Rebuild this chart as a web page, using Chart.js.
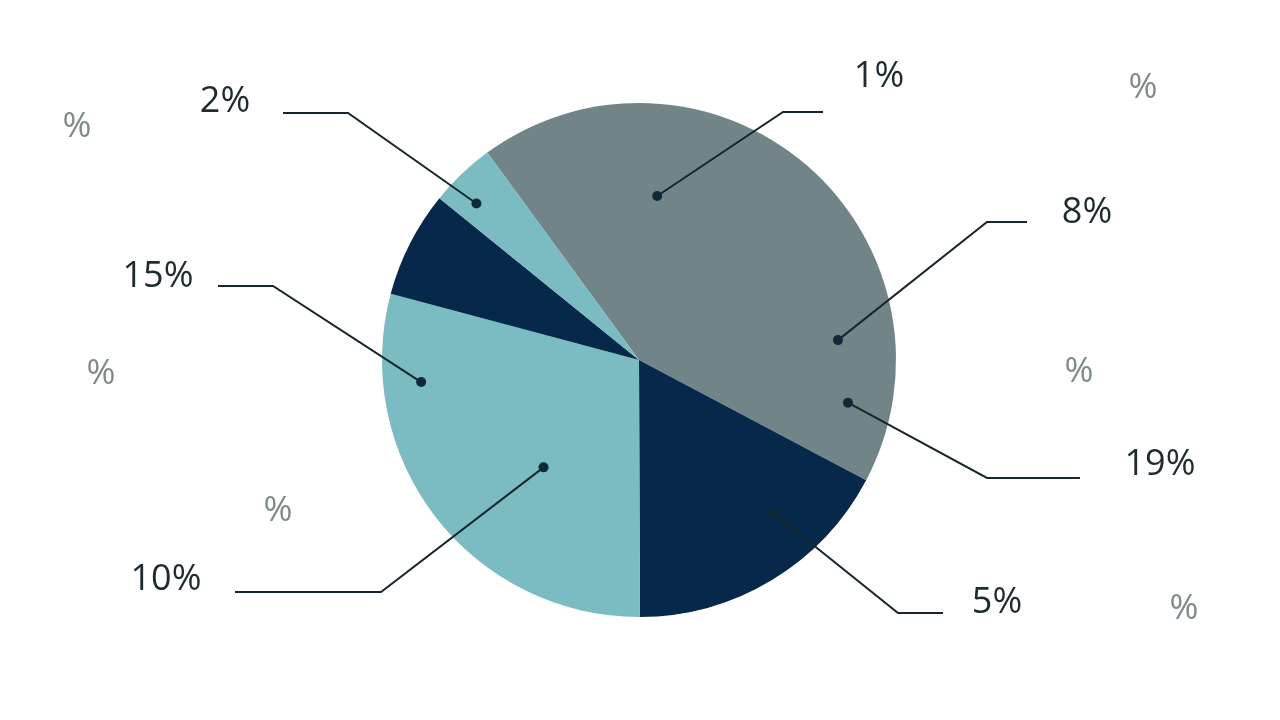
<!DOCTYPE html>
<html>
<head>
<meta charset="utf-8">
<script src="https://cdn.jsdelivr.net/npm/chart.js@4"></script>
<style>
    html, body { margin: 0; padding: 0; background: #fff; }
    #wrap { width: 1280px; height: 720px; }
</style>
</head>
<body>
<div id="wrap"><canvas id="pie"></canvas></div>
<script>
// slice shares (in %)
const slices = ['A', 'B', 'C', 'D', 'E'];
const shares = [42.8, 17.2, 29.2, 6.7, 4.1];
const colors = ['#718589', '#06284a', '#7bbcc2', '#06284a', '#7bbcc2'];

// callout labels, which slice they point into, where inside that slice
const calloutText  = ['1%', '8%', '19%', '5%', '10%', '15%', '2%'];
const calloutSlice = [0, 0, 0, 1, 2, 2, 4];
const calloutAngle = [0.276, 0.782, 0.894, 0.337, 0.398, 0.803, 0.33]; // fraction of the slice sweep
const calloutDepth = [0.642, 0.778, 0.830, 0.791, 0.559, 0.852, 0.878]; // fraction of radius

// leader layout, offsets from pie centre: elbow, line end, text centre
const calloutLayout = [
    { elbow: [144, -248], end: [184, -248], text: [240, -283] },
    { elbow: [348, -138], end: [388, -138], text: [448, -147] },
    { elbow: [348, 118],  end: [441, 118],  text: [521, 105] },
    { elbow: [259, 253],  end: [304, 253],  text: [358, 243] },
    { elbow: [-258, 232], end: [-404, 232], text: [-473, 220] },
    { elbow: [-366, -74], end: [-421, -74], text: [-481, -83] },
    { elbow: [-291, -247], end: [-356, -247], text: [-414, -258] }
];

// stray "%" marks with no number
const ghostMarks = [[-562, -233], [504, -272], [-538, 14], [440, 12], [-361, 151], [545, 249]];

const callouts = {
    id: 'callouts',
    afterDatasetsDraw(chart) {
        const ctx = chart.ctx;
        const arcs = chart.getDatasetMeta(0).data;
        const cx = arcs[0].x, cy = arcs[0].y;

        ctx.save();
        ctx.textAlign = 'center';
        ctx.textBaseline = 'middle';

        calloutText.forEach((txt, i) => {
            const arc = arcs[calloutSlice[i]];
            const a = arc.startAngle + (arc.endAngle - arc.startAngle) * calloutAngle[i];
            const r = arc.outerRadius * calloutDepth[i];
            const px = cx + Math.cos(a) * r;
            const py = cy + Math.sin(a) * r;
            const L = calloutLayout[i];

            ctx.strokeStyle = '#17262c';
            ctx.lineWidth = 2;
            ctx.beginPath();
            ctx.moveTo(px, py);
            ctx.lineTo(cx + L.elbow[0], cy + L.elbow[1]);
            ctx.lineTo(cx + L.end[0], cy + L.end[1]);
            ctx.stroke();

            ctx.fillStyle = '#0f2a36';
            ctx.beginPath();
            ctx.arc(px, py, 5, 0, Math.PI * 2);
            ctx.fill();

            ctx.fillStyle = '#1e2b2f';
            ctx.font = '500 36px "Open Sans", sans-serif';
            ctx.fillText(txt, cx + L.text[0], cy + L.text[1]);
        });

        ctx.fillStyle = '#7f8b8b';
        ctx.font = '500 35px "Open Sans", sans-serif';
        ghostMarks.forEach(g => ctx.fillText('%', cx + g[0], cy + g[1]));
        ctx.restore();
    }
};

new Chart(document.getElementById('pie'), {
    type: 'pie',
    data: {
        labels: slices,
        datasets: [{ data: shares, backgroundColor: colors, borderWidth: 0 }]
    },
    options: {
        responsive: true,
        maintainAspectRatio: false,
        animation: false,
        rotation: -36.2,
        layout: { padding: { top: 103, bottom: 103, left: 0, right: 2 } },
        plugins: { legend: { display: false }, tooltip: { enabled: false } }
    },
    plugins: [callouts]
});
</script>
</body>
</html>
